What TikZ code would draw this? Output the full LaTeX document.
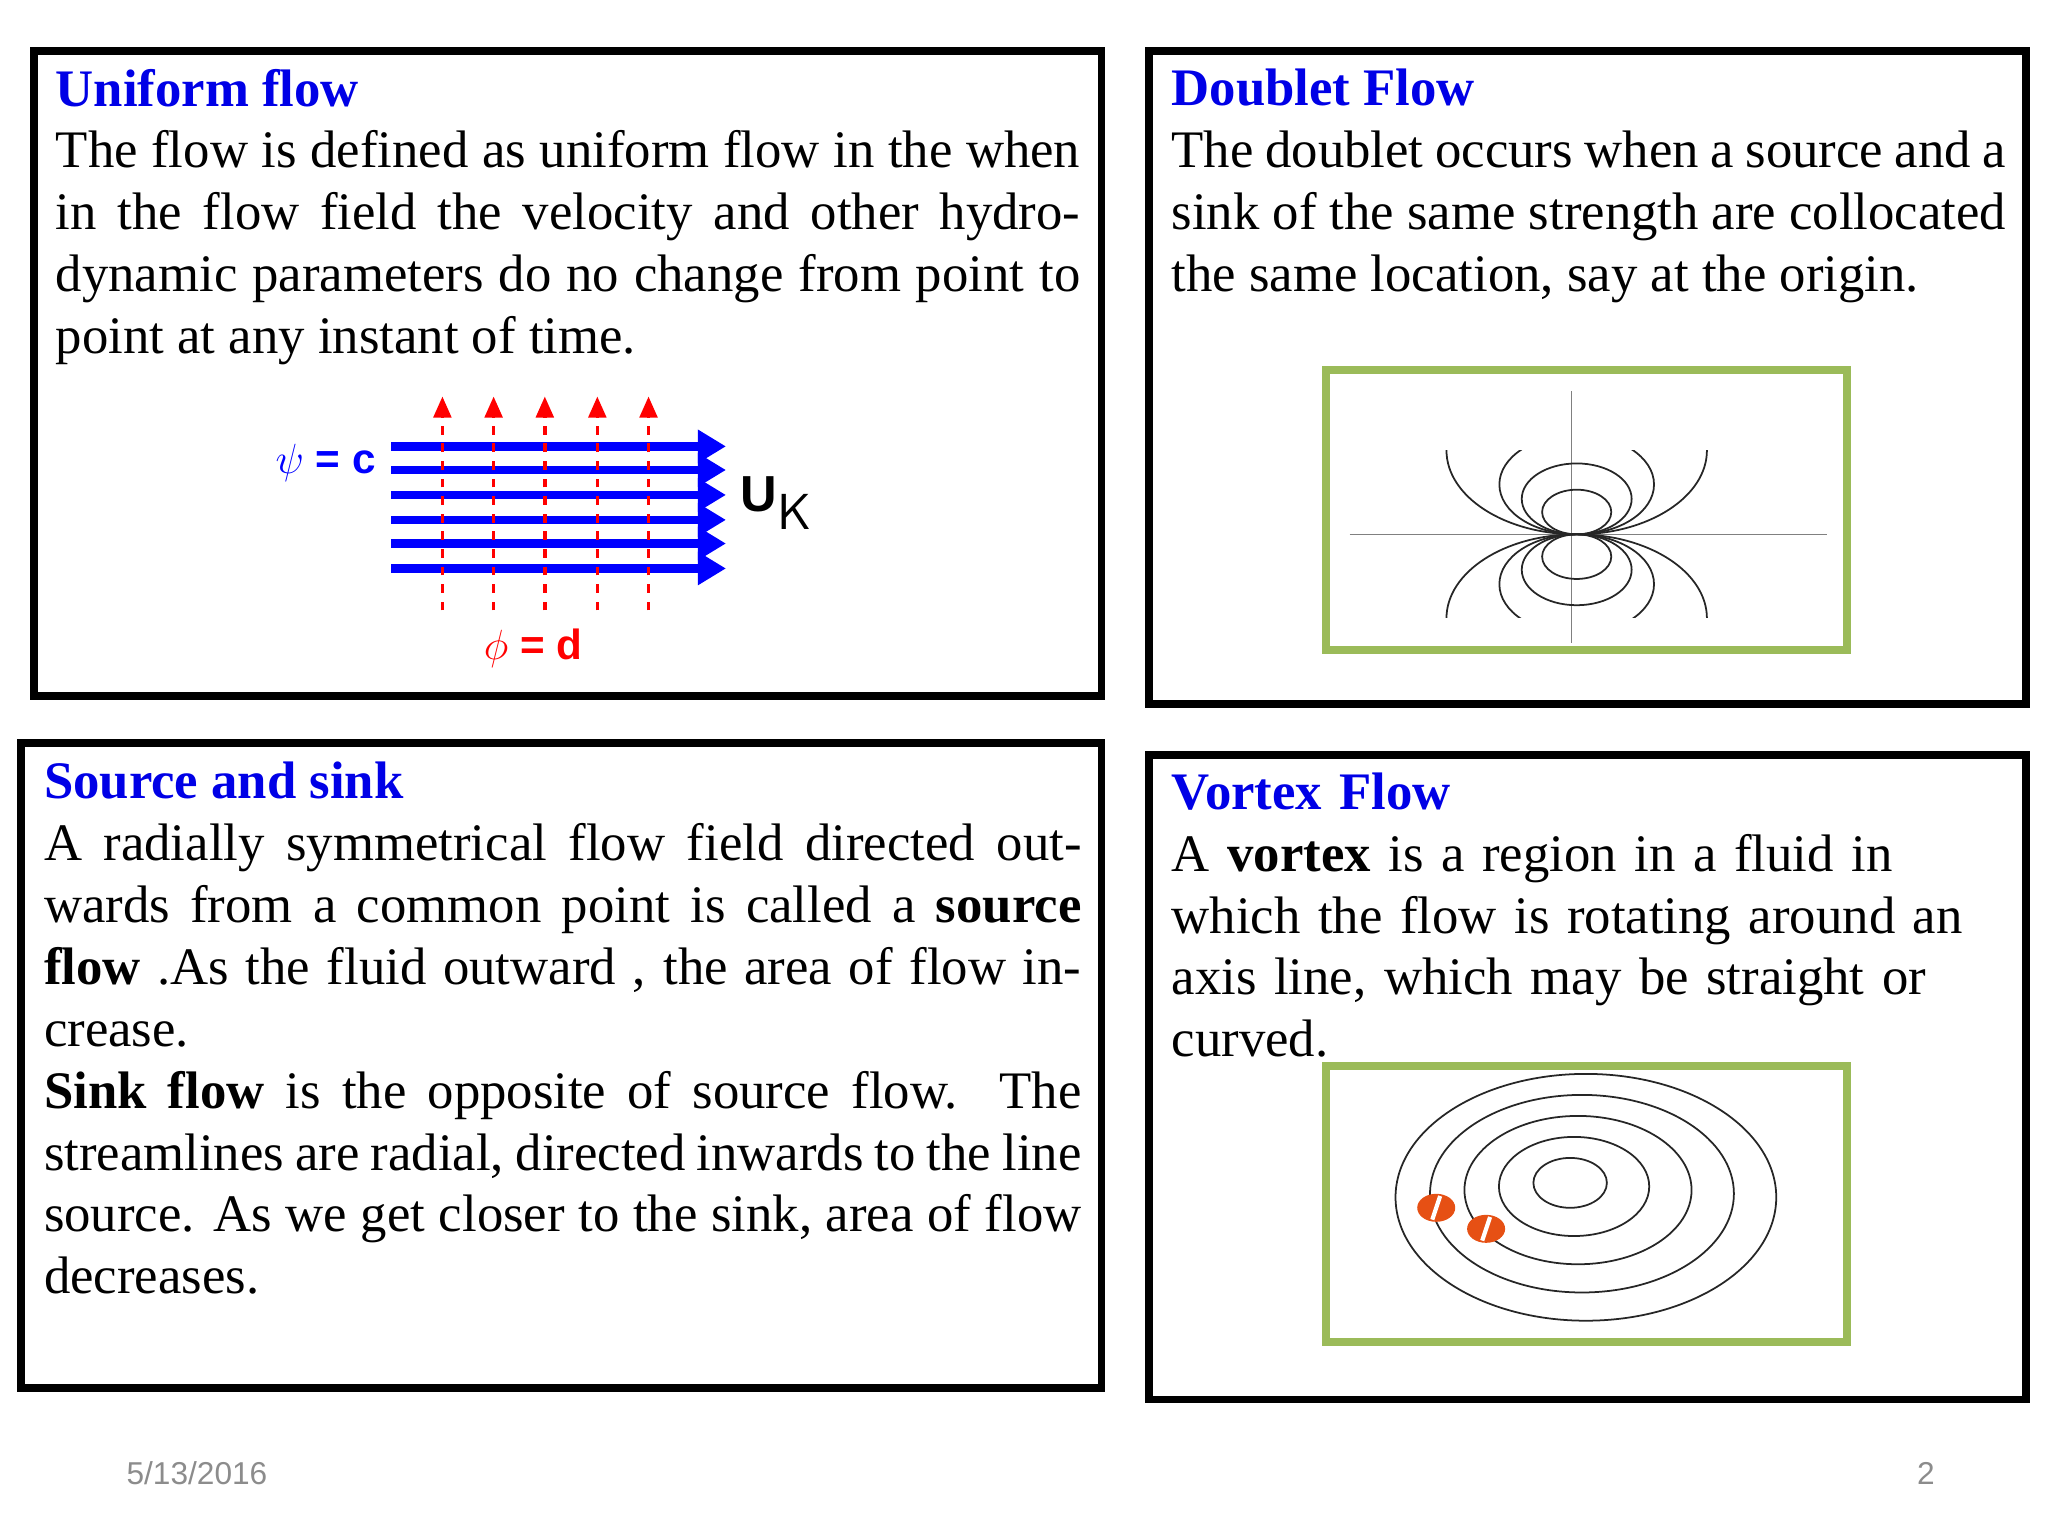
\documentclass[tikz,border=0pt]{standalone}
\usepackage{fontspec}
\setmainfont{Liberation Serif}
\newfontfamily\labelfont{Liberation Sans}
\usetikzlibrary{arrows.meta, calc}
\definecolor{titleblue}{RGB}{0,0,230}
\definecolor{framegreen}{RGB}{155,187,89}
\definecolor{dotorange}{RGB}{230,80,20}
\tikzset{
  panel/.style={draw=black, line width=2.2pt},
  picframe/.style={draw=framegreen, line width=2.2pt},
  bodytext/.style={anchor=north west, inner sep=0pt, font=\fontsize{15}{17.6}\selectfont},
  streamline/.style={draw=blue, line width=2.4pt, -{Triangle[length=8pt,width=9pt]}},
  potline/.style={draw=red, line width=1pt, dash pattern=on 2.5pt off 2.5pt, -{Triangle[length=6pt,width=5pt]}},
  flowline/.style={draw=black!85, line width=0.5pt}
}
\newcommand{\ttl}[1]{{\color{titleblue}\bfseries #1}}
\begin{document}
\begin{tikzpicture}[x=0.013128cm, y=-0.013128cm]
\useasboundingbox (0,0) rectangle (1560,1170);
% panels
\draw[panel] (26,39) rectangle (839,530);
\draw[panel] (875,39) rectangle (1543,536);
\draw[panel] (16,566) rectangle (839,1057);
\draw[panel] (875,575) rectangle (1543,1066);

% uniform flow
\node[bodytext, text width=10.24cm, align=justify] (uniformtext) at (42,52)
  {\ttl{Uniform flow}\\ The flow is defined as uniform flow in the when in the flow field the velocity and other hydrodynamic parameters do no change from point to point at any instant of time.};
\foreach \y [count=\i] in {340,358,377,396,414,433} {
  \coordinate (sa\i) at (298,\y);
  \coordinate (sb\i) at (553,\y);
  \draw[streamline] (sa\i) -- (sb\i);
}
\foreach \x [count=\i] in {337,376,415,455,494} {
  \coordinate (pa\i) at (\x,465);
  \coordinate (pb\i) at (\x,302);
  \draw[potline] (pa\i) -- (pb\i);
}
\node[text=blue, font=\labelfont\bfseries\large] (psi) at (248,353) {$\psi$ = c};
\node[text=red, font=\labelfont\bfseries\large] (phi) at (406,494) {$\phi$ = d};
\node[font=\labelfont\Large] (uk) at (592,383) {\textbf{U}$_{\textsf{K}}$};

% doublet flow
\node[bodytext, text width=8.34cm, align=justify] (doublettext) at (892,52)
  {\ttl{Doublet Flow}\\ The doublet occurs when a source and a sink of the same strength are collocated the same location, say at the origin.};
\draw[picframe] (1010,282) rectangle (1407,495);
\coordinate (origin) at (1201,407);
\draw[black!50, line width=0.4pt] (1028,407) -- (1392,407);
\draw[black!50, line width=0.4pt] (1197,298) -- (1197,490);
\begin{scope}
  \clip (1080,343) rectangle (1320,470);
  \foreach \r in {17,27,38,64} {
    \draw[flowline] ($(origin)+(0,-\r)$) ellipse [x radius={1.55*\r*0.013128cm}, y radius={\r*0.013128cm}];
    \draw[flowline] ($(origin)+(0,\r)$) ellipse [x radius={1.55*\r*0.013128cm}, y radius={\r*0.013128cm}];
  }
\end{scope}

% source and sink
\node[bodytext, text width=10.37cm, align=justify] (sourcetext) at (33,580)
  {\ttl{Source and sink}\\ A radially symmetrical flow field directed outwards from a common point is called a \textbf{source flow} .As the fluid outward , the area of flow increase.\\ \textbf{Sink flow} is the opposite of source flow. The streamlines are radial, directed inwards to the line source. As we get closer to the sink, area of flow decreases.};

% vortex flow
\node[bodytext, text width=8.6cm, align=left] (vortextext) at (892,588)
  {\ttl{Vortex Flow}\\ A \textbf{vortex} is a region in a fluid in which the flow is rotating around an axis line, which may be straight or curved.};
\draw[picframe] (1010,812) rectangle (1407,1022);
\foreach \t in {0,1,2,3,4} {
  \draw[flowline] ({1196+3*\t},{901+2.75*\t}) ellipse [x radius={(28+29.25*\t)*0.013128cm}, y radius={(19+18.75*\t)*0.013128cm}];
}
\foreach \p/\q in {1094/920, 1132/936} {
  \fill[dotorange] (\p,\q) ellipse [x radius=0.19cm, y radius=0.14cm];
  \draw[white, line width=1.2pt] (\p-3,\q+9) -- (\p+3,\q-9);
}

% footer
\node[text=black!45, font=\labelfont\small] (date) at (150,1122) {5/13/2016};
\node[text=black!45, font=\labelfont\small] (page) at (1467,1122) {2};
\end{tikzpicture}
\end{document}
